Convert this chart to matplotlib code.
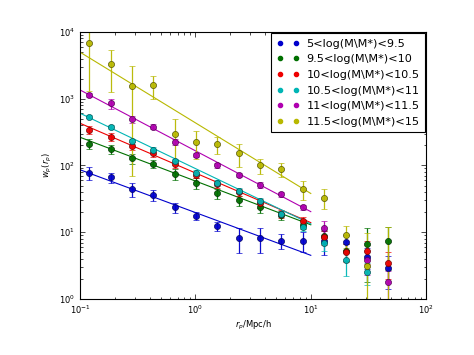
"""Projected correlation function w_p(r_p) in stellar-mass bins, with power-law fits."""

import matplotlib as mpl
import numpy as np

mpl.use("Agg")
import matplotlib.pyplot as plt  # noqa: E402
from matplotlib.lines import Line2D  # noqa: E402

# r_p bin centres (Mpc/h)
rp = [0.12, 0.185, 0.28, 0.43, 0.66, 1.01, 1.55, 2.38, 3.64, 5.57, 8.53, 13.1, 20.0, 30.6, 46.9]

labels = [
    "5<log(M\\M*)<9.5",
    "9.5<log(M\\M*)<10",
    "10<log(M\\M*)<10.5",
    "10.5<log(M\\M*)<11",
    "11<log(M\\M*)<11.5",
    "11.5<log(M\\M*)<15",
]
colors = ["#0000cc", "#007000", "#ee0000", "#00b5b5", "#b000b0", "#b8b800"]
edges = ["#000060", "#003000", "#700000", "#005050", "#500050", "#505000"]

wp_m1 = [78, 66, 44, 36, 23.7, 17.5, 12.4, 8.1, 8.1, 7.5, 7.5, 7.5, 7.2, 4.3, 2.9]
wp_m2 = [210, 175, 128, 105, 74, 54, 38, 30, 23.7, 18, 13, 8.8, 5.2, 6.6, 7.4]
wp_m3 = [340, 270, 198, 152, 105, 72, 52, 40, 27, 19, 14.8, 8.4, 5.1, 5.3, 3.5]
wp_m4 = [538, 382, 233, 171, 117, 78, 55, 42, 29, 18.8, 12.1, 7.0, 3.8, 2.5, np.nan]
wp_m5 = [1140, 855, 498, 382, 225, 144, 101, 72, 51, 37, 23.7, 11.7, np.nan, 3.8, 1.8]
wp_m6 = [6800, 3280, 1570, 1600, 295, 227, 210, 152, 101, 88, 44.5, 33, 9.0, 3.1, -2]

err_m1 = [18, 12, 10, 6.5, 4, 2.5, 2, 3.3, 3.3, 2, 2.5, 3, 2, 1.5, 1.5]
err_m2 = [35, 28, 22, 15, 13, 10, 7, 5, 4, 3, 2, 2, 1.5, 4.8, 4.7]
err_m3 = [45, 40, 25, 18, 12, 8, 6, 5, 4, 2.5, 2, 2, 1.5, 2, 1.5]
err_m4 = [30, 25, 20, 15, 10, 7, 5, 4, 3, 2, 1.8, 1.8, 1.6, 0.9, np.nan]
err_m5 = [80, 150, 60, 30, 20, 12, 8, 6, 5, 3, 2, 3, np.nan, 1.5, 0.8]
err_m6 = [5500, 2000, 1500, 600, 195, 100, 60, 57, 26, 22, 14, 11, 3.3, 6.5, 14]

# power-law fits, evaluated at the ends of the fitted range
fit_rp = [0.1, 10.0]
fit_m1 = [86, 4.5]
fit_m2 = [264, 12.9]
fit_m3 = [428, 13.9]
fit_m4 = [605, 13.3]
fit_m5 = [1350, 20.3]
fit_m6 = [4970, 38]

wp_all = [wp_m1, wp_m2, wp_m3, wp_m4, wp_m5, wp_m6]
err_all = [err_m1, err_m2, err_m3, err_m4, err_m5, err_m6]
fit_all = [fit_m1, fit_m2, fit_m3, fit_m4, fit_m5, fit_m6]

plt.rcParams.update({
    "xtick.direction": "in",
    "ytick.direction": "in",
    "xtick.top": True,
    "ytick.right": True,
    "xtick.major.size": 3.5,
    "ytick.major.size": 3.5,
    "xtick.minor.size": 1.8,
    "ytick.minor.size": 1.8,
    "xtick.major.width": 0.5,
    "ytick.major.width": 0.5,
    "xtick.minor.width": 0.5,
    "ytick.minor.width": 0.5,
    "xtick.labelsize": 6,
    "ytick.labelsize": 6,
    "axes.linewidth": 0.8,
})

fig = plt.figure(figsize=(4.74, 3.55), dpi=100)
ax = fig.add_axes([0.169, 0.158, 0.730, 0.752])
ax.set_xscale("log")
ax.set_yscale("log")

handles = []
for wp, err, fit, c, ec, lab in zip(wp_all, err_all, fit_all, colors, edges, labels):
    ax.errorbar(rp, wp, yerr=err, fmt="o", color=c, ms=4.4, mec=ec, mew=0.5,
                ecolor=c, elinewidth=0.9, capsize=2, capthick=0.6, alpha=0.95)
    ax.plot(fit_rp, fit, color=c, lw=0.8)
    handles.append(Line2D([], [], ls="none", marker="o", ms=3, color=c, mec=c, label=lab))

ax.set_xlim(0.1, 100)
ax.set_ylim(1, 1e4)
ax.set_xlabel(r"$r_p$/Mpc/h", fontsize=6, labelpad=2)
ax.set_ylabel(r"$w_p(r_p)$", fontsize=6, labelpad=4)

leg = ax.legend(handles=handles, loc="upper right", numpoints=2, fontsize=8.1,
                frameon=True, fancybox=False, edgecolor="black", framealpha=1,
                borderaxespad=0.1, handlelength=2.0, handletextpad=0.65,
                labelspacing=0.5, borderpad=0.5)
leg.get_frame().set_linewidth(0.8)

fig.savefig("out.png", dpi=100)
